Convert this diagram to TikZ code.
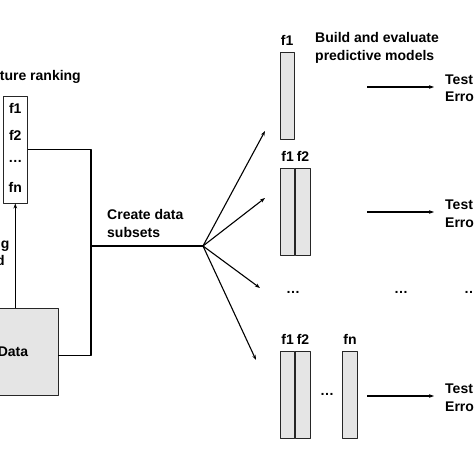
\documentclass[tikz,border=0pt]{standalone}
\usepackage{fontspec}
\setmainfont{Liberation Sans}
\usetikzlibrary{positioning,arrows.meta}
\tikzset{
  box/.style={draw=black!85, line width=0.9pt, fill=black!10},
  col/.style={box, minimum width=14.5pt, minimum height=87pt, inner sep=0pt},
  lbl/.style={inner sep=1pt},
  txt/.style={align=left, inner sep=0pt, anchor=west},
  link/.style={line width=1.1pt},
}
\begin{document}
\begin{tikzpicture}[x=1pt, y=-1pt, >={Stealth[length=5pt,width=3.6pt]}, line join=round,
    font=\fontsize{14}{17.5}\selectfont\bfseries]
	\useasboundingbox (0,0) rectangle (474,474);
	\clip (0,0) rectangle (474,474);
	% feature ranking
	\node[txt, anchor=east] (rkhead) at (81,77) {Feature ranking};
	\node[draw=black!85, line width=0.9pt, minimum width=24pt, minimum height=107pt, inner sep=0pt] (rank) at (15.3,149.5) {};
	\node[lbl] (rf1) at (15.3,108) {f1};
	\node[lbl] (rf2) at (15.3,135) {f2};
	\node[lbl] (rdots) at (15.3,161) {\dots};
	\node[lbl] (rfn) at (15.3,187) {fn};
	\node[txt] (rkmeth) at (-46,252) {Ranking\\method};
	\node[box, minimum width=90pt, minimum height=87pt] (data) at (13,351.5) {Data};
	\draw[link,->] (data.north -| rank.south) -- (rank.south);
	% create data subsets
	\coordinate (joint) at (91,246);
	\coordinate (fan) at (203,246);
	\draw[link] (rank.east) -| (joint) |- ([yshift=-4pt]data.east);
	\draw[link] (joint) -- (fan);
	\node[txt] (subsets) at (107,223.5) {Create data\\subsets};
	\coordinate (to1) at (265,131);
	\coordinate (to2) at (265,198);
	\coordinate (to3) at (260,288);
	\coordinate (to4) at (256,360);
	\foreach \t in {to1,to2,to3,to4} \draw[link,->] (fan) -- (\t);
	% models
	\node[txt] (build) at (315,48) {Build and evaluate\\predictive models};
	\node[col] (c1) at (287.2,96) {};
	\node[col] (c2a) at (287.6,212) {};
	\node[col, right=0pt of c2a] (c2b) {};
	\node[col] (c3a) at (287.6,395.3) {};
	\node[col, right=0pt of c3a] (c3b) {};
	\node[col] (c3n) at (350,395.3) {};
	\node[lbl, above=5.5pt of c1] {f1};
	\node[lbl, above=5.5pt of c2a] {f1};
	\node[lbl, above=5.5pt of c2b] {f2};
	\node[lbl, above=5.5pt of c3a] {f1};
	\node[lbl, above=5.5pt of c3b] {f2};
	\node[lbl, above=5.5pt of c3n] {fn};
	\node (dcol) at (327,394) {\dots};
	\node (drow1) at (293,292) {\dots};
	\node (drow2) at (401,292) {\dots};
	\node (drow3) at (471,292) {\dots};
	% test error
	\foreach \y [count=\i] in {87,212,396} {
		\coordinate (src\i) at (367,\y);
		\coordinate (dst\i) at (434,\y);
		\draw[link,->] (src\i) -- (dst\i);
		\node[txt] (err\i) at (445,\y+1.5) {Test\\Error};
	}
\end{tikzpicture}
\end{document}
